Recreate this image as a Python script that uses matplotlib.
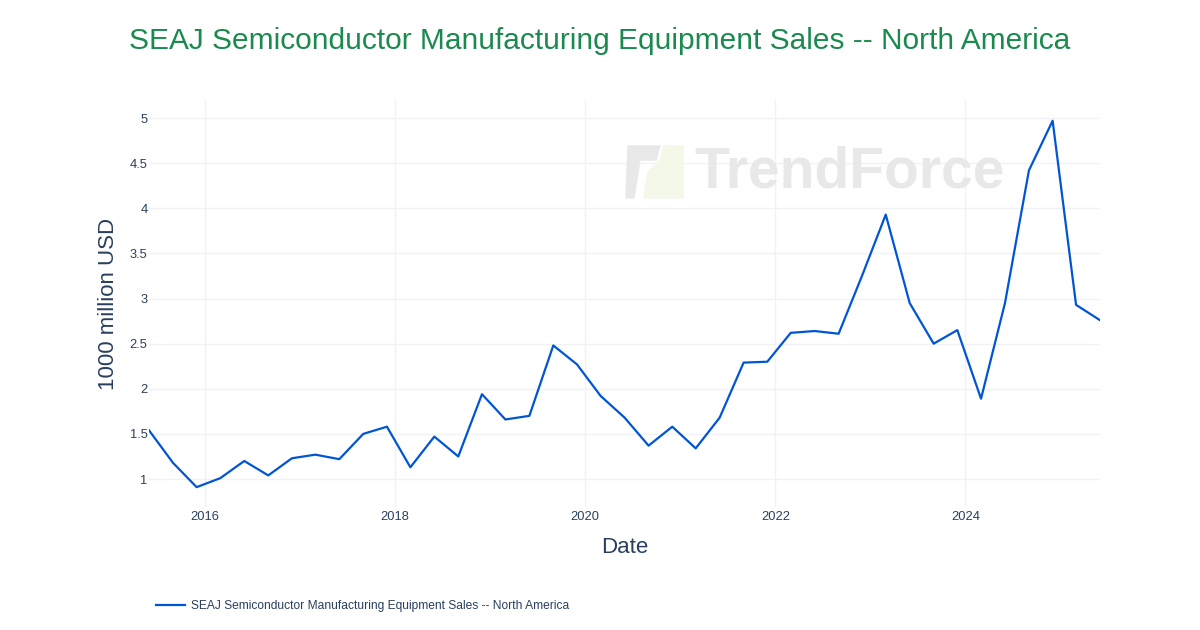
import numpy as np
import pandas as pd
import matplotlib
matplotlib.use("Agg")
import matplotlib.pyplot as plt
import matplotlib.dates as mdates
from matplotlib.ticker import FuncFormatter, MultipleLocator
from matplotlib.patches import Polygon

plt.rcParams['font.family'] = ['Liberation Sans', 'DejaVu Sans']

# quarterly data points, Jun 2015 .. Jun 2025
dates = pd.date_range("2015-06-01", periods=41, freq="3MS")
sales = [1.54, 1.18, 0.91, 1.01, 1.20, 1.04, 1.23, 1.27, 1.22, 1.50,
         1.58, 1.13, 1.47, 1.25, 1.94, 1.66, 1.70, 2.48, 2.27, 1.92,
         1.68, 1.37, 1.58, 1.34, 1.68, 2.29, 2.30, 2.62, 2.64, 2.61,
         3.26, 3.93, 2.95, 2.50, 2.65, 1.89, 2.95, 4.42, 4.97, 2.93,
         2.76]

title = "SEAJ Semiconductor Manufacturing Equipment Sales -- North America"
series_name = "SEAJ Semiconductor Manufacturing Equipment Sales -- North America"
text_col = "#2a3f5f"
line_col = "#0055d4"

fig = plt.figure(figsize=(12, 6.3), dpi=100)
ax = fig.add_axes([149/1200, 1 - 507/630, (1100-149)/1200, (507-100)/630])

# watermark
fig.text(850/1200, 1 - 173/630, "TrendForce", fontsize=41, fontweight="bold",
         color="#e8e8e8", ha="center", va="center", zorder=0)
fig.patches.append(Polygon([[628/1200, 1-146/630], [660/1200, 1-146/630], [656/1200, 1-160/630],
                            [640/1200, 1-160/630], [634/1200, 1-198/630], [626/1200, 1-198/630]],
                           closed=True, transform=fig.transFigure, color="#e8e8e8", zorder=0))
fig.patches.append(Polygon([[664/1200, 1-146/630], [683/1200, 1-146/630], [683/1200, 1-198/630],
                            [644/1200, 1-198/630], [648/1200, 1-172/630], [660/1200, 1-160/630]],
                           closed=True, transform=fig.transFigure, color="#f3f8e8", zorder=0))
ax.patch.set_alpha(0)

ax.plot(dates, sales, color=line_col, lw=1.6, label=series_name, zorder=3)

ax.set_xlim(pd.Timestamp("2015-06-01"), pd.Timestamp("2025-06-01"))
ax.set_ylim(0.69, 5.2)
ax.yaxis.set_major_locator(MultipleLocator(0.5))
ax.yaxis.set_major_formatter(FuncFormatter(lambda v, p: "%g" % v))
ax.xaxis.set_major_locator(mdates.YearLocator(2))
ax.xaxis.set_major_formatter(mdates.DateFormatter("%Y"))

ax.grid(True, color="#f0f2f5", lw=1)
ax.set_axisbelow(True)
for s in ax.spines.values():
    s.set_visible(False)
ax.tick_params(length=0, labelsize=9.3, labelcolor=text_col)
ax.tick_params(axis="y", pad=1)
ax.tick_params(axis="x", pad=3)

ax.set_ylabel("1000 million USD", fontsize=16, color=text_col, labelpad=8)
ax.set_xlabel("Date", fontsize=16, color=text_col, labelpad=10)

fig.text(0.5, 1 - 41/630, title, fontsize=21.5, color="#1a8a4e", ha="center", va="center")

ax.legend(loc="upper left", bbox_to_anchor=(145/1200, 1 - 589/630), bbox_transform=fig.transFigure,
          frameon=False, fontsize=8.65, labelcolor=text_col, handlelength=2.4, handletextpad=0.5)

fig.savefig("out.png", dpi=100)
